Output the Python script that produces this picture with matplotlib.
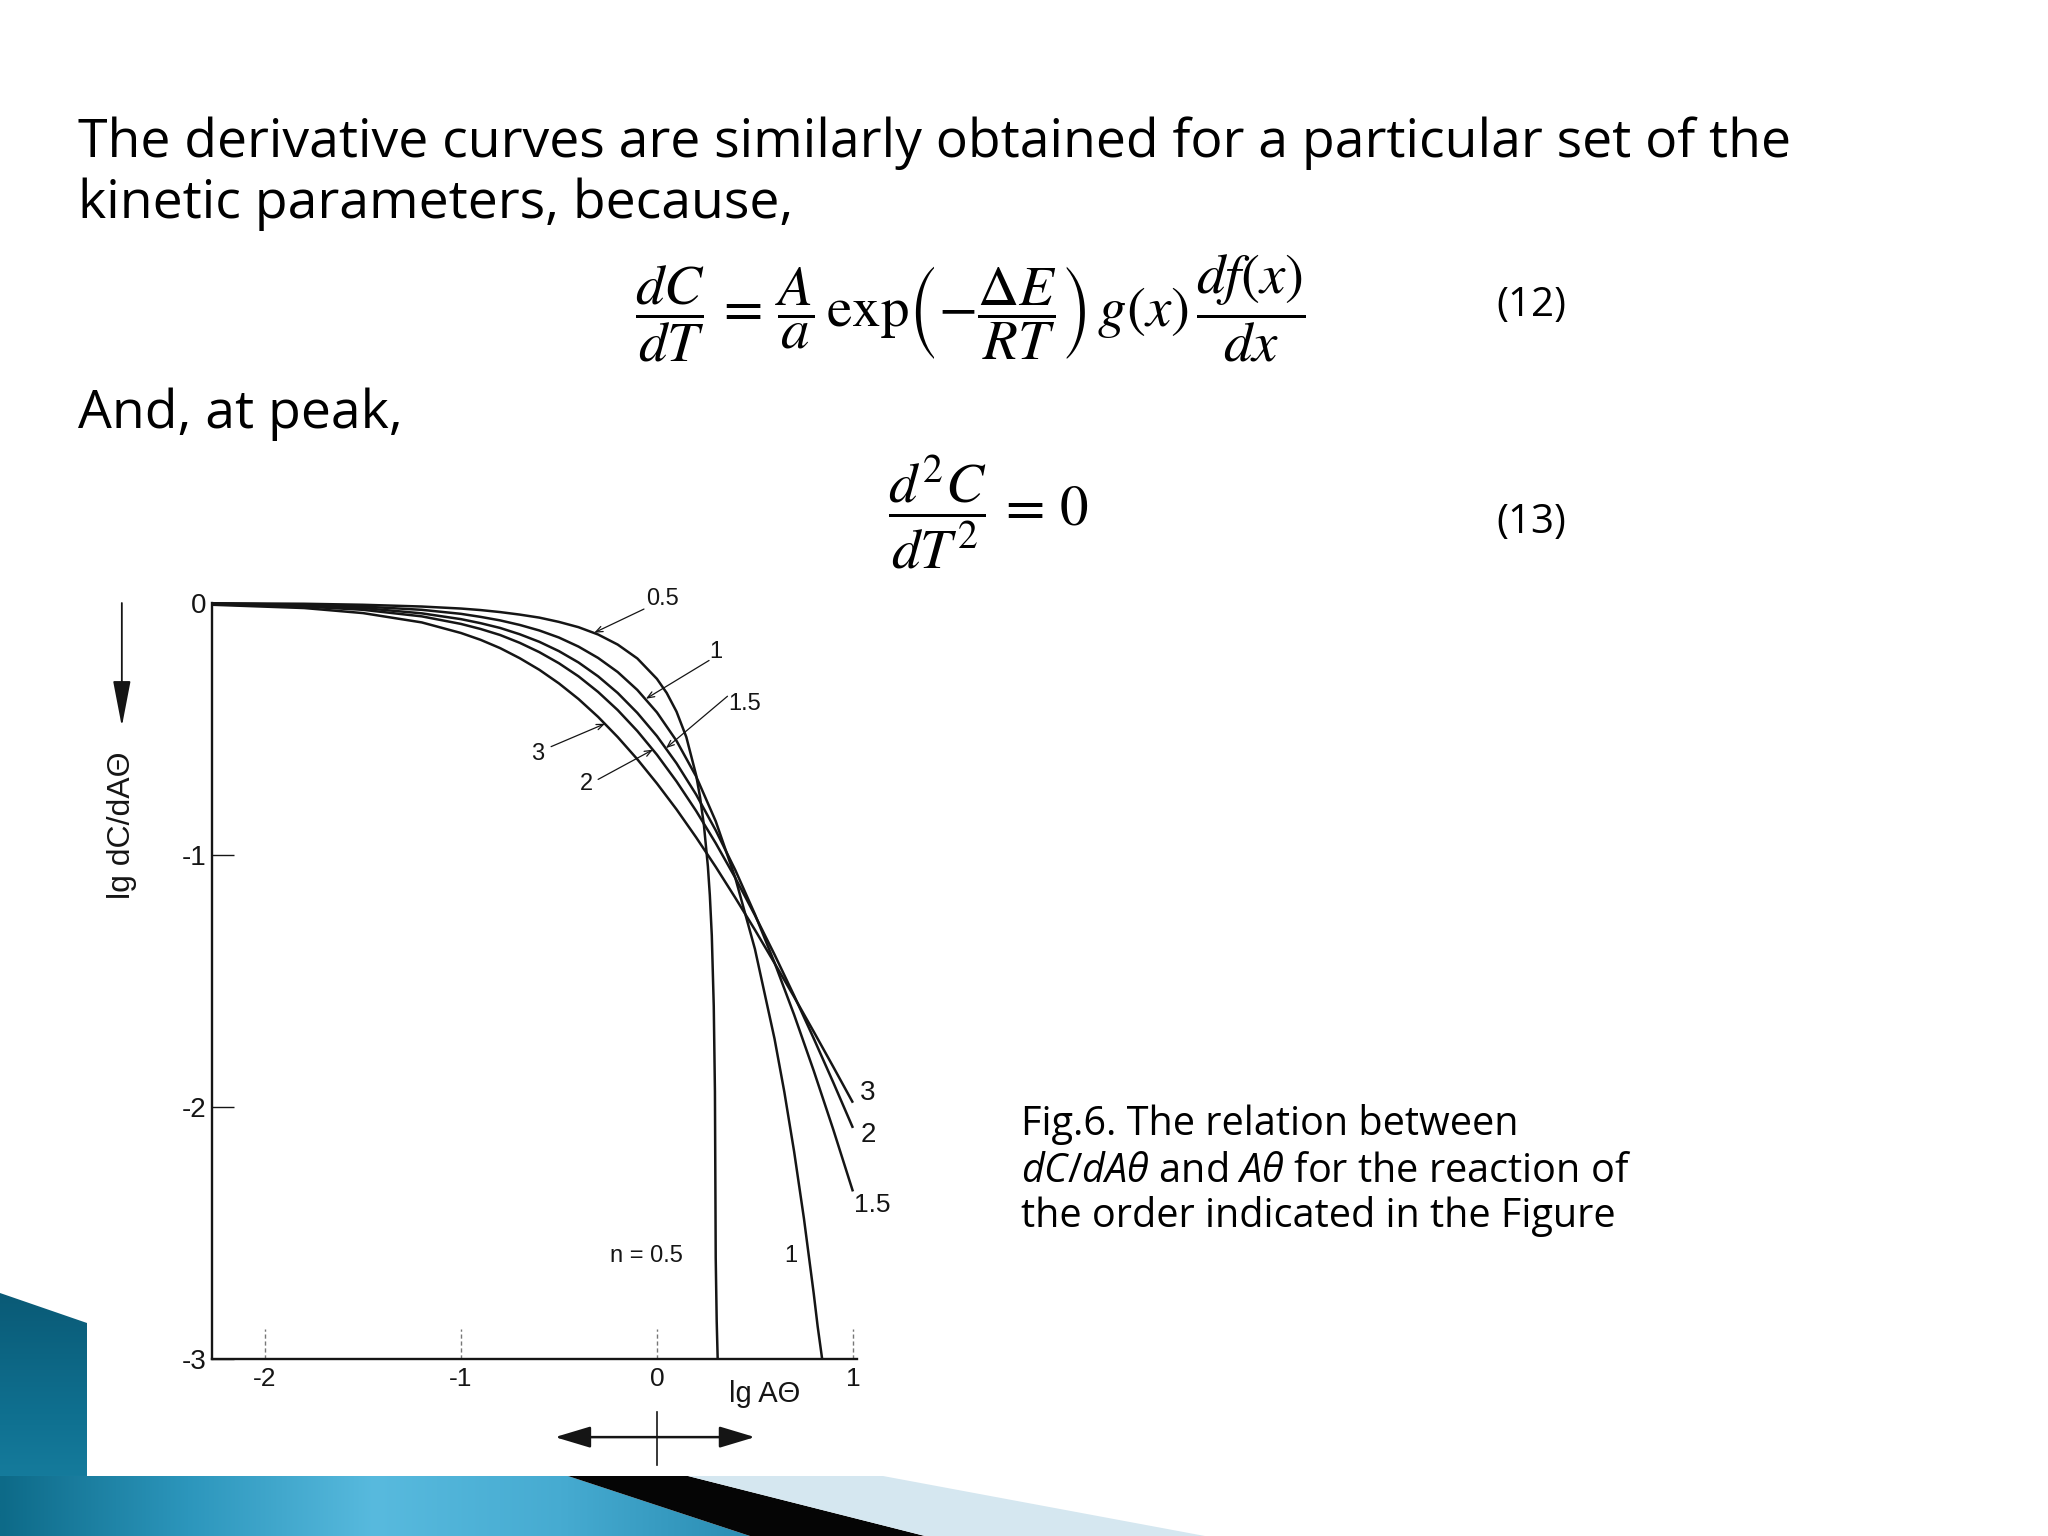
import numpy as np
import matplotlib
matplotlib.use("Agg")
import matplotlib.pyplot as plt
from matplotlib.patches import Polygon
from matplotlib.colors import LinearSegmentedColormap

plt.rcParams['axes.unicode_minus'] = False
plt.rcParams['mathtext.fontset'] = 'custom'
plt.rcParams['mathtext.rm'] = 'Open Sans'
plt.rcParams['mathtext.it'] = 'Open Sans:italic'

W, H = 2048, 1536

# lg(A theta) -> lg(dC/dA theta)
lg_at = [-2.27, -1.8, -1.5, -1.2, -1.0, -0.9, -0.8, -0.7, -0.6, -0.5, -0.4, -0.3, -0.2, -0.1,
         0.0, 0.1, 0.2, 0.3, 0.4, 0.5, 0.6, 0.7, 0.8, 0.9, 1.0]
n15 = [-0.004, -0.010, -0.020, -0.041, -0.064, -0.080, -0.099, -0.124, -0.154, -0.191, -0.236,
       -0.291, -0.357, -0.436, -0.528, -0.636, -0.760, -0.902, -1.060, -1.235, -1.427, -1.634,
       -1.856, -2.090, -2.335]
n2 = [-0.005, -0.014, -0.027, -0.053, -0.083, -0.103, -0.127, -0.158, -0.195, -0.239, -0.291,
      -0.353, -0.425, -0.508, -0.602, -0.708, -0.825, -0.953, -1.091, -1.239, -1.395, -1.558,
      -1.728, -1.903, -2.083]
n3 = [-0.007, -0.020, -0.040, -0.077, -0.119, -0.146, -0.179, -0.219, -0.265, -0.319, -0.381,
      -0.452, -0.532, -0.620, -0.716, -0.819, -0.930, -1.047, -1.170, -1.297, -1.429, -1.563,
      -1.701, -1.841, -1.983]

lg_at_n1 = [-2.27, -1.8, -1.5, -1.2, -1.0, -0.9, -0.8, -0.7, -0.6, -0.5, -0.4, -0.3, -0.2, -0.1,
            0.0, 0.1, 0.2, 0.3, 0.4, 0.5, 0.6, 0.65, 0.7, 0.75, 0.8, 0.82, 0.843]
n1 = [-0.002, -0.007, -0.014, -0.027, -0.043, -0.055, -0.069, -0.087, -0.109, -0.137, -0.173,
      -0.218, -0.274, -0.345, -0.434, -0.547, -0.688, -0.866, -1.091, -1.373, -1.729, -1.940,
      -2.177, -2.442, -2.740, -2.870, -3.0]

lg_at_n05 = [-2.27, -1.8, -1.5, -1.2, -1.0, -0.9, -0.8, -0.7, -0.6, -0.5, -0.4, -0.3, -0.2, -0.1,
             0.0, 0.05, 0.1, 0.15, 0.2, 0.22, 0.24, 0.26, 0.27, 0.28, 0.29, 0.296, 0.30, 0.305, 0.31]
n05 = [-0.001, -0.003, -0.007, -0.014, -0.022, -0.028, -0.036, -0.046, -0.058, -0.075, -0.096,
       -0.125, -0.165, -0.220, -0.301, -0.357, -0.431, -0.532, -0.683, -0.770, -0.883, -1.045,
       -1.160, -1.320, -1.600, -1.940, -2.600, -2.850, -3.0]

xticks = [-2, -1, 0, 1]
yticks = [0, -1, -2, -3]

# order labels: (text, label position, leader start, arrow tip on the curve)
leaders = [("0.5", (0.03, 0.016), (-0.066, -0.024), (-0.32, -0.118)),
           ("1", (0.30, -0.196), (0.266, -0.228), (-0.056, -0.38)),
           ("1.5", (0.445, -0.40), (0.36, -0.37), (0.046, -0.576)),
           ("3", (-0.607, -0.60), (-0.54, -0.57), (-0.265, -0.479)),
           ("2", (-0.36, -0.72), (-0.30, -0.70), (-0.02, -0.582))]
end_labels = [("3", 1.077, -1.945, 20), ("2", 1.077, -2.11, 20), ("1.5", 1.10, -2.39, 19),
              ("n = 0.5", -0.055, -2.59, 17), ("1", 0.685, -2.59, 17)]

fig = plt.figure(figsize=(W / 100, H / 100), dpi=100)

# slide background layer in pixel coordinates
bg = fig.add_axes([0, 0, 1, 1])
bg.set_xlim(0, W)
bg.set_ylim(H, 0)
bg.axis('off')


def grad_poly(ax, verts, colors, horizontal=True):
    cmap = LinearSegmentedColormap.from_list('g', colors)
    xs = [v[0] for v in verts]
    ys = [v[1] for v in verts]
    g = np.linspace(0, 1, 256)
    img = g[None, :] if horizontal else g[:, None]
    im = ax.imshow(img, cmap=cmap, aspect='auto', interpolation='bilinear',
                   extent=(min(xs), max(xs), max(ys), min(ys)), zorder=0)
    patch = Polygon(verts, closed=True, facecolor='none', edgecolor='none')
    ax.add_patch(patch)
    im.set_clip_path(patch)


grad_poly(bg, [(0, 1293), (87, 1323), (87, 1536), (0, 1536)],
          ['#0a5a76', '#0f7090', '#1b86a8'], horizontal=False)
grad_poly(bg, [(0, 1476), (568, 1476), (750, 1536), (0, 1536)],
          ['#0d6a88', '#2c96bc', '#58bade', '#46abd1', '#2a8db3'])
bg.add_patch(Polygon([(568, 1476), (688, 1476), (925, 1536), (750, 1536)],
                     closed=True, facecolor='#050505', edgecolor='none'))
bg.add_patch(Polygon([(688, 1476), (883, 1476), (1205, 1536), (925, 1536)],
                     closed=True, facecolor='#d5e7f0', edgecolor='none'))
bg.set_xlim(0, W)
bg.set_ylim(H, 0)

body = dict(fontfamily='Open Sans', color='black', va='baseline', ha='left')
bg.text(78, 157, "The derivative curves are similarly obtained for a particular set of the",
        fontsize=38.5, **body)
bg.text(78, 218, "kinetic parameters, because,", fontsize=38.5, **body)
bg.text(78, 428, "And, at peak,", fontsize=38.5, **body)

bg.text(635, 308, r"$\dfrac{dC}{dT}\,=\,\dfrac{A}{a}\,\mathrm{exp}\left(-\dfrac{\Delta E}{RT}\right)"
        r"\,g(x)\,\dfrac{df(x)}{dx}$", fontsize=41, math_fontfamily='stix',
        ha='left', va='center')
bg.text(888, 512, r"$\dfrac{d^2C}{dT^2}\,=\,0$", fontsize=41, math_fontfamily='stix',
        ha='left', va='center')
bg.text(1496, 306, "(12)", fontsize=29, fontfamily='Open Sans', ha='left', va='center')
bg.text(1496, 523, "(13)", fontsize=29, fontfamily='Open Sans', ha='left', va='center')

cap = dict(fontfamily='Open Sans', fontsize=28.5, va='baseline', ha='left', math_fontfamily='custom')
bg.text(1021, 1135, "Fig.6. The relation between", **cap)
bg.text(1021, 1182, r"$dC/dA\theta$ and $A\theta$ for the reaction of", **cap)
bg.text(1021, 1227, "the order indicated in the Figure", **cap)

# the scanned chart
ax = fig.add_axes([212 / W, 1 - 1359 / H, 646.8 / W, 768.6 / H])
ax.set_facecolor('none')
ink = '#151515'
sans = 'Liberation Sans'

for xs, ys in [(lg_at_n05, n05), (lg_at_n1, n1), (lg_at, n15), (lg_at, n2), (lg_at, n3)]:
    ax.plot(xs, ys, color=ink, lw=1.8, solid_capstyle='butt', clip_on=False)

ax.set_xlim(-2.27, 1.03)
ax.set_ylim(-3, 0.05)
for s in ['top', 'right']:
    ax.spines[s].set_visible(False)
ax.spines['left'].set_bounds(-3, 0)
ax.spines['bottom'].set_bounds(-2.27, 1.02)
for s in ['left', 'bottom']:
    ax.spines[s].set_linewidth(1.7)
    ax.spines[s].set_color(ink)

ax.set_yticks(yticks)
ax.set_yticklabels([str(v) for v in yticks], fontfamily=sans, fontsize=20)
ax.set_xticks(xticks)
ax.set_xticklabels([str(v) for v in xticks], fontfamily=sans, fontsize=19)
ax.tick_params(axis='y', direction='in', length=16, width=1.0, pad=4, colors=ink)
ax.tick_params(axis='x', length=0, pad=6, colors=ink)
ax.vlines(xticks, -3, -2.88, colors='#777777', lw=1.0, linestyles=(0, (3, 2)))

for txt, lab, start, tip in leaders:
    ax.text(lab[0], lab[1], txt, fontfamily=sans, fontsize=17, ha='center', va='center',
            color=ink, clip_on=False)
    ax.annotate('', xy=tip, xytext=start, annotation_clip=False,
                arrowprops=dict(arrowstyle='->,head_length=0.5,head_width=0.2',
                                lw=0.9, color=ink, shrinkA=0, shrinkB=0))
for txt, x, y, fs in end_labels:
    ax.text(x, y, txt, fontfamily=sans, fontsize=fs, ha='center', va='center', color=ink,
            clip_on=False)

ax.text(-2.73, -0.88, "lg dC/dA\u0398", rotation=90, fontfamily=sans, fontsize=23,
        ha='center', va='center', color=ink, clip_on=False)
ax.annotate('', xy=(-2.73, -0.49), xytext=(-2.73, 0.0), annotation_clip=False,
            arrowprops=dict(arrowstyle='-|>,head_length=1.3,head_width=0.25', lw=1.3,
                            color=ink, mutation_scale=22, shrinkA=0, shrinkB=0))
ax.text(0.55, -3.14, "lg A\u0398", fontfamily=sans, fontsize=21, ha='center', va='center',
        color=ink, clip_on=False)
ax.annotate('', xy=(-0.52, -3.31), xytext=(0.50, -3.31), annotation_clip=False,
            arrowprops=dict(arrowstyle='<|-|>,head_length=1.0,head_width=0.3', lw=1.8,
                            color=ink, mutation_scale=22, shrinkA=0, shrinkB=0))
ax.plot([0, 0], [-3.21, -3.42], color=ink, lw=1.2, clip_on=False)

fig.savefig('out.png', dpi=100)
